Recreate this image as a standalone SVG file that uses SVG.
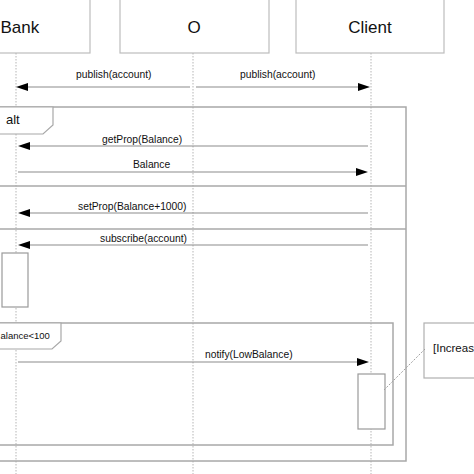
<svg xmlns="http://www.w3.org/2000/svg" width="474" height="474" viewBox="0 0 474 474">
<style>
.hdr{fill:#fff;stroke:#bdbdbd;stroke-width:1.2}
.htxt{font-family:"Liberation Sans",Arial,sans-serif;font-size:17px;fill:#111;text-anchor:middle}
.life{stroke:#b5b5b5;stroke-width:1;stroke-dasharray:1.5,1.5}
.frame{fill:none;stroke:#a8a8a8;stroke-width:1.5}
.lbl{fill:#fff;stroke:#a8a8a8;stroke-width:1.2}
.msg{stroke:#8c8c8c;stroke-width:1.2;fill:none}
.mtxt{font-family:"Liberation Sans",Arial,sans-serif;font-size:10.3px;fill:#111}
.act{fill:#fff;stroke:#9a9a9a;stroke-width:1.2}
.note{fill:#fff;stroke:#b0b0b0;stroke-width:1.2}
.head{fill:#000}
</style>
<rect width="474" height="474" fill="#fff"/>
<g id="bank">
<rect class="hdr" x="-58" y="-10" width="148" height="63"/>
<text class="htxt" x="0.5" y="33" style="text-anchor:start">Bank</text>
</g>
<g id="o">
<rect class="hdr" x="120" y="-10" width="149" height="63"/>
<text class="htxt" x="194" y="33">O</text>
</g>
<g id="client">
<rect class="hdr" x="296" y="-10" width="148" height="63"/>
<text class="htxt" x="370" y="33">Client</text>
</g>
<g id="lifelines">
<line class="life" x1="16" y1="53" x2="16" y2="474"/>
<line class="life" x1="193" y1="53" x2="193" y2="474"/>
<line class="life" x1="371" y1="53" x2="371" y2="474"/>
</g>
<g id="alt-frame">
<rect class="frame" x="-20" y="107" width="426" height="354"/>
<line class="frame" x1="-20" y1="186" x2="406" y2="186"/>
<line class="frame" x1="-20" y1="229" x2="406" y2="229"/>
<path class="lbl" d="M-20,107 H53 V125 L43,134 H-20 Z"/>
<text x="6" y="124" font-family="Liberation Sans,Arial,sans-serif" font-size="13px" fill="#111">alt</text>
</g>
<g id="opt-frame">
<rect class="frame" x="-20" y="323" width="413" height="122"/>
<path class="lbl" d="M-20,323 H61 V341 L52,349 H-20 Z"/>
<text x="0.5" y="339" font-family="Liberation Sans,Arial,sans-serif" font-size="9.5px" fill="#111">alance&lt;100</text>
</g>
<g id="bank-activation">
<rect class="act" x="2" y="253" width="26" height="54"/>
</g>
<g id="client-activation">
<rect class="act" x="358" y="374" width="27" height="55"/>
</g>
<g id="note">
<rect class="note" x="424" y="323" width="70" height="55"/>
<text x="433" y="352" font-family="Liberation Sans,Arial,sans-serif" font-size="11.5px" fill="#111">[Increas</text>
</g>
<g id="connectors">
<line class="msg" x1="190" y1="87" x2="27" y2="87"/>
<path class="head" d="M16,87 L28,83 L28,91 Z"/>
<text class="mtxt" x="76" y="78">publish(account)</text>
<line class="msg" x1="196" y1="87" x2="359" y2="87"/>
<path class="head" d="M370,87 L358,83 L358,91 Z"/>
<text class="mtxt" x="240" y="78">publish(account)</text>
<line class="msg" x1="368" y1="146" x2="29" y2="146"/>
<path class="head" d="M18,146 L30,142 L30,150 Z"/>
<text class="mtxt" x="102" y="143">getProp(Balance)</text>
<line class="msg" x1="18" y1="172" x2="357" y2="172"/>
<path class="head" d="M368,172 L356,168 L356,176 Z"/>
<text class="mtxt" x="133" y="168">Balance</text>
<line class="msg" x1="368" y1="213" x2="29" y2="213"/>
<path class="head" d="M18,213 L30,209 L30,217 Z"/>
<text class="mtxt" x="78" y="210">setProp(Balance+1000)</text>
<line class="msg" x1="368" y1="245" x2="29" y2="245"/>
<path class="head" d="M18,245 L30,241 L30,249 Z"/>
<text class="mtxt" x="100" y="242">subscribe(account)</text>
<line class="msg" x1="18" y1="362" x2="358" y2="362"/>
<path class="head" d="M369,362 L357,358 L357,366 Z"/>
<text class="mtxt" x="205" y="358">notify(LowBalance)</text>
<line x1="384" y1="390" x2="425" y2="349" stroke="#a0a0a0" stroke-width="1" stroke-dasharray="2,1.5"/>
</g>
</svg>
